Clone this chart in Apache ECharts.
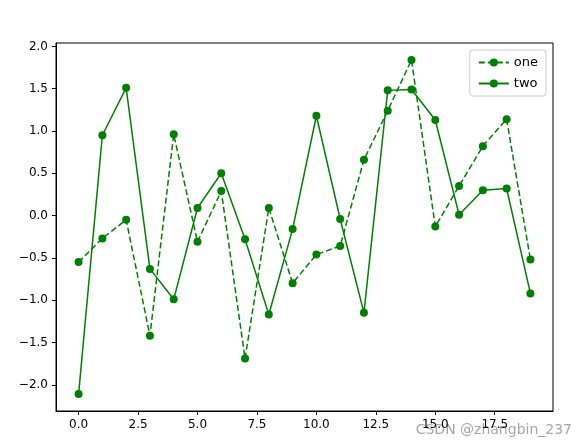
<!DOCTYPE html>
<html>
<head>
<meta charset="utf-8">
<script src="https://cdn.jsdelivr.net/npm/echarts@6/dist/echarts.min.js"></script>
<style>body{margin:0;background:#fff}#chart{width:586px;height:441px}</style>
</head>
<body>
<div id="chart"></div>
<script>
var xValues = [0,1,2,3,4,5,6,7,8,9,10,11,12,13,14,15,16,17,18,19];
var oneValues = [-0.55,-0.27,-0.05,-1.42,0.96,-0.31,0.29,-1.69,0.09,-0.80,-0.46,-0.36,0.66,1.24,1.84,-0.13,0.35,0.82,1.14,-0.52];
var twoValues = [-2.11,0.95,1.51,-0.63,-0.99,0.09,0.50,-0.28,-1.17,-0.16,1.18,-0.04,-1.15,1.48,1.49,1.13,0.01,0.30,0.32,-0.92];
var xTicks = [0,2.5,5,7.5,10,12.5,15,17.5];
var yTicks = [-2,-1.5,-1,-0.5,0,0.5,1,1.5,2];

var chart = echarts.init(document.getElementById('chart'));

function pairs(vals) {
    return vals.map(function (v, i) { return [xValues[i], v]; });
}
function fmt(v) {
    var s = Number(v).toFixed(1);
    return s.charAt(0) === '-' ? '\u2212' + s.slice(1) : s;
}

var green = '#008000';
var option = {
    animation: false,
    textStyle: {fontFamily: 'DejaVu Sans'},
    grid: {left: 56, right: 33, top: 43, bottom: 30},
    legend: {
        right: 40, top: 50, orient: 'vertical',
        itemWidth: 30, itemHeight: 10, itemGap: 8,
        padding: [6, 8],
        borderColor: '#ccc', borderWidth: 1, borderRadius: 3,
        textStyle: {fontSize: 13, color: '#000'},
        data: ['one', 'two']
    },
    xAxis: {
        type: 'value', min: -0.95, max: 19.95,
        splitLine: {show: false},
        axisLine: {onZero: false, lineStyle: {color: '#000'}},
        axisTick: {show: true, customValues: xTicks, length: 4, inside: false, lineStyle: {color: '#000'}},
        axisLabel: {customValues: xTicks, formatter: fmt, color: '#000', fontSize: 12, margin: 8}
    },
    yAxis: {
        type: 'value', min: -2.31, max: 2.04,
        splitLine: {show: false},
        axisLine: {show: true, onZero: false, lineStyle: {color: '#000'}},
        axisTick: {show: true, customValues: yTicks, length: 4, lineStyle: {color: '#000'}},
        axisLabel: {customValues: yTicks, formatter: fmt, color: '#000', fontSize: 12, margin: 8}
    },
    graphic: [
        {type: 'rect', shape: {x: 56, y: 43, width: 497, height: 368}, style: {fill: 'none', stroke: '#000', lineWidth: 1}, silent: true},
        {type: 'text', right: 14, bottom: 4, style: {text: 'CSDN @zhangbin_237', fill: 'rgba(150,150,150,0.85)', fontSize: 14, fontFamily: 'DejaVu Sans'}}
    ],
    series: [
        {
            name: 'one', type: 'line', data: pairs(oneValues),
            symbol: 'circle', symbolSize: 8,
            itemStyle: {color: green},
            lineStyle: {color: green, width: 1.5, type: [6, 3]}
        },
        {
            name: 'two', type: 'line', data: pairs(twoValues),
            symbol: 'circle', symbolSize: 8,
            itemStyle: {color: green},
            lineStyle: {color: green, width: 1.5, type: 'solid'}
        }
    ]
};
chart.setOption(option);
</script>
</body>
</html>
